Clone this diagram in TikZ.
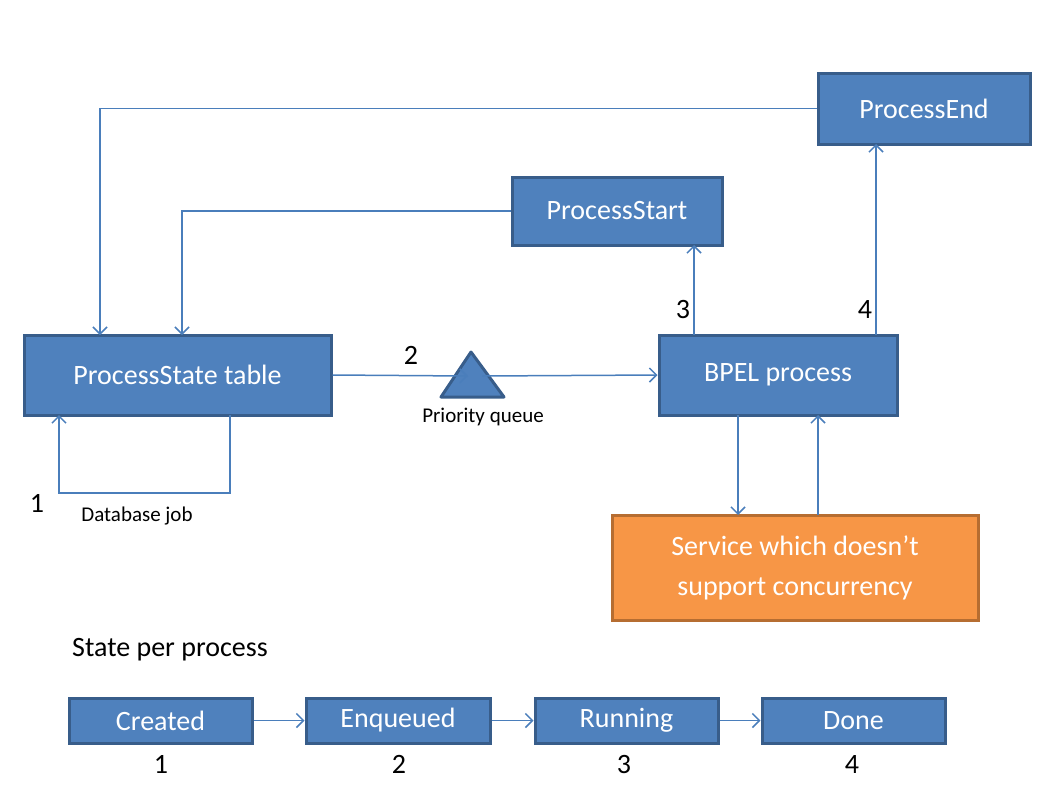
\documentclass[tikz,border=0pt]{standalone}
\usepackage{fontspec}
\setmainfont{Carlito}
\usetikzlibrary{arrows.meta}
\definecolor{bfill}{HTML}{4F81BD}
\definecolor{bdraw}{HTML}{385D8A}
\definecolor{ofill}{HTML}{F79646}
\definecolor{odraw}{HTML}{B66D31}
\definecolor{ln}{HTML}{4A7EBB}
\begin{document}
\begin{tikzpicture}[x=1pt,y=-1pt,
 box/.style={draw=bdraw,fill=bfill,line width=3pt,text=white,font=\fontsize{28}{32}\selectfont,inner sep=0pt},
 obox/.style={box,draw=odraw,fill=ofill,align=center,font=\fontsize{28}{40}\selectfont},
 sbox/.style={box,font=\fontsize{28}{30}\selectfont},
 con/.style={draw=ln,line width=1.5pt,-{Straight Barb[length=7pt,width=14pt]}},
 lab/.style={font=\fontsize{28}{30}\selectfont,inner sep=0pt},
 small/.style={font=\fontsize{21}{24}\selectfont,inner sep=0pt}]
\useasboundingbox (0,0) rectangle (1048,801);
\node[box,minimum width=212pt,minimum height=71pt] (pe) at (924,108.5) {ProcessEnd};
\node[box,minimum width=210pt,minimum height=68pt] (ps) at (617,211) {ProcessStart};
\node[box,minimum width=307pt,minimum height=80pt] (pst) at (177.5,375) {ProcessState table};
\node[box,minimum width=238pt,minimum height=80pt] (bp) at (778,375) {BPEL process};
\node[obox,minimum width=366pt,minimum height=105pt] (sv) at (795,567.5) {Service which doesn’t\\support concurrency};
\draw[draw=bdraw,fill=bfill,line width=3pt,line join=round] (471,352) -- (504,397) -- (441,397) -- cycle;
\coordinate (pqin) at (468,376);
\coordinate (pqout) at (482,376);
\node[sbox,minimum width=183pt,minimum height=45pt] (c1) at (160.5,720.5) {Created};
\node[sbox,minimum width=184pt,minimum height=45pt] (c2) at (398,720.5) {Enqueued};
\node[sbox,minimum width=183pt,minimum height=45pt] (c3) at (626.5,720.5) {Running};
\node[sbox,minimum width=183pt,minimum height=45pt] (c4) at (853.5,720.5) {Done};
% connectors
\draw[con] (pe.west) -| (100,335);
\draw[con] (ps.west) -| (182,335);
\draw[con] (pst.east) -- (pqin);
\draw[con] (pqout) -- (bp.west);
\draw[con] (230,415) |- (59,493) -- (59,415);
\draw[con] (694,335) -- (694,245);
\draw[con] (876,335) -- (876,144);
\draw[con] (738,415) -- (738,515);
\draw[con] (818,515) -- (818,415);
\draw[con] (c1) -- (c2);
\draw[con] (c2) -- (c3);
\draw[con] (c3) -- (c4);
% labels
\node[lab] (l2) at (411,355) {2};
\node[small] (lpq) at (483,417) {Priority queue};
\node[lab] (l1) at (37,503) {1};
\node[small] (ldb) at (137,516) {Database job};
\node[lab] (l3) at (683,310) {3};
\node[lab] (l4) at (865,310) {4};
\node[lab,anchor=west] (st) at (72,650) {State per process};
\node[lab] (n1) at (161,764) {1};
\node[lab] (n2) at (399,764) {2};
\node[lab] (n3) at (624,764) {3};
\node[lab] (n4) at (852,764) {4};
\end{tikzpicture}
\end{document}
